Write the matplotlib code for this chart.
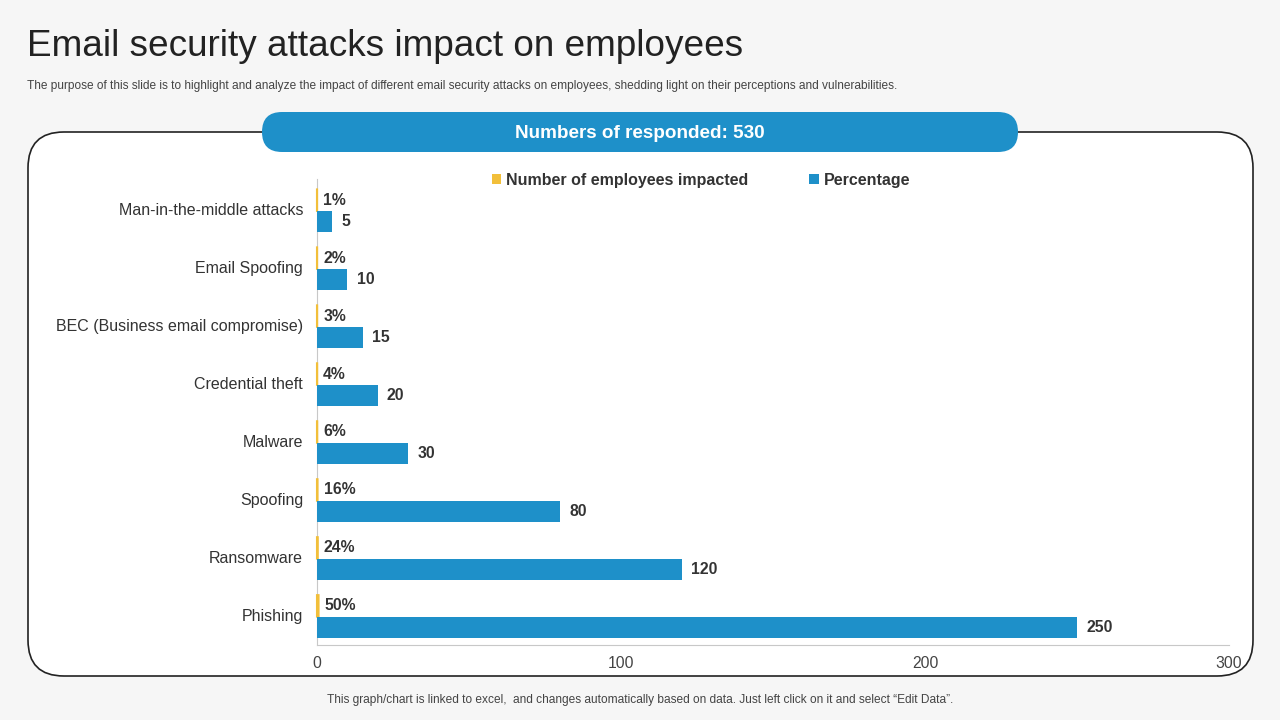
import matplotlib
matplotlib.use("Agg")
import matplotlib.pyplot as plt
from matplotlib.patches import FancyBboxPatch, Patch
import numpy as np

categories = ["Phishing", "Ransomware", "Spoofing", "Malware", "Credential theft",
              "BEC (Business email compromise)", "Email Spoofing", "Man-in-the-middle attacks"]
employees_impacted = [0.50, 0.24, 0.16, 0.06, 0.04, 0.03, 0.02, 0.01]
percentage = [250, 120, 80, 30, 20, 15, 10, 5]
xticks = [0, 100, 200, 300]
series_names = ["Number of employees impacted", "Percentage"]

BLUE = "#1e90c9"
YELLOW = "#f2bf3a"
BG = "#f6f6f6"

fig = plt.figure(figsize=(12.8, 7.2), dpi=100, facecolor=BG)

# white rounded panel
panel = FancyBboxPatch((28/1280, 44/720), (1253-28)/1280, (588-44)/720,
                       boxstyle="round,pad=0,rounding_size=0.028",
                       transform=fig.transFigure, facecolor="white",
                       edgecolor="#222222", linewidth=1.2, mutation_aspect=1280/720,
                       zorder=-2)
fig.patches.append(panel)

# blue pill header
pill = FancyBboxPatch((262/1280, (720-152)/720), (1018-262)/1280, 40/720,
                      boxstyle="round,pad=0,rounding_size=0.0156",
                      transform=fig.transFigure, facecolor=BLUE,
                      edgecolor="none", mutation_aspect=1280/720, zorder=-1)
fig.patches.append(pill)
fig.text(640/1280, (720-133)/720, "Numbers of responded: 530", ha="center", va="center",
         color="white", fontsize=13.6, fontweight="bold", family="Liberation Sans")

fig.text(27/1280, (720-46)/720, "Email security attacks impact on employees", ha="left",
         va="center", fontsize=26.6, color="#222222", family="Liberation Sans")
fig.text(27/1280, (720-86)/720,
         "The purpose of this slide is to highlight and analyze the impact of different email security attacks on employees, shedding light on their perceptions and vulnerabilities.",
         ha="left", va="center", fontsize=8.6, color="#444444", family="Liberation Sans")
fig.text(640/1280, (720-700)/720,
         "This graph/chart is linked to excel,  and changes automatically based on data. Just left click on it and select \u201cEdit Data\u201d.",
         ha="center", va="center", fontsize=8.6, color="#444444", family="Liberation Sans")

ax = fig.add_axes([317/1280, (720-645)/720, (1229-317)/1280, (645-179)/720])
ax.set_zorder(1)
ax.set_facecolor("none")
y = np.arange(len(categories))
h = 0.37
off = -0.03
ybars = ax.barh(y + h/2 + off, employees_impacted, height=h, color=YELLOW,
                edgecolor=YELLOW, linewidth=1.5, zorder=3)
for b in ybars:
    b.set_snap(False)
    b.set_clip_on(False)
ax.barh(y - h/2 + off, percentage, height=h, color=BLUE, zorder=3)

for yi, v in zip(y, employees_impacted):
    ax.text(v + 2, yi + h/2 + off, f"{v*100:.0f}%", va="center", ha="left",
            fontsize=11.3, fontweight="bold", color="#333333", family="Liberation Sans")
for yi, v in zip(y, percentage):
    ax.text(v + 3, yi - h/2 + off, f"{v}", va="center", ha="left",
            fontsize=11.3, fontweight="bold", color="#333333", family="Liberation Sans")

ax.set_xlim(0, 300)
ax.set_ylim(-0.52, len(categories) - 0.48)
ax.set_xticks(xticks)
ax.set_xticklabels([str(t) for t in xticks], fontsize=11.3, color="#444444", family="Liberation Sans")
ax.set_yticks(y)
ax.set_yticklabels(categories, fontsize=11.5, color="#333333", family="Liberation Sans")
ax.tick_params(axis="both", length=0)
ax.tick_params(axis="x", pad=8)
ax.tick_params(axis="y", pad=10)
for s in ["top", "right"]:
    ax.spines[s].set_visible(False)
ax.spines["left"].set_color("#c8c8c8")
ax.spines["bottom"].set_color("#c8c8c8")

handles = [Patch(facecolor=YELLOW, edgecolor="none"), Patch(facecolor=BLUE, edgecolor="none")]
leg = fig.legend(handles=handles, labels=series_names,
                 loc="center", bbox_to_anchor=(701/1280, (720-180)/720), ncol=2, frameon=False,
                 handlelength=0.6, handleheight=0.6, handletextpad=0.3, columnspacing=3.8,
                 prop={"family": "Liberation Sans", "weight": "bold", "size": 11.5})
for t in leg.get_texts():
    t.set_color("#333333")

fig.savefig("out.png", dpi=100, facecolor=BG)
